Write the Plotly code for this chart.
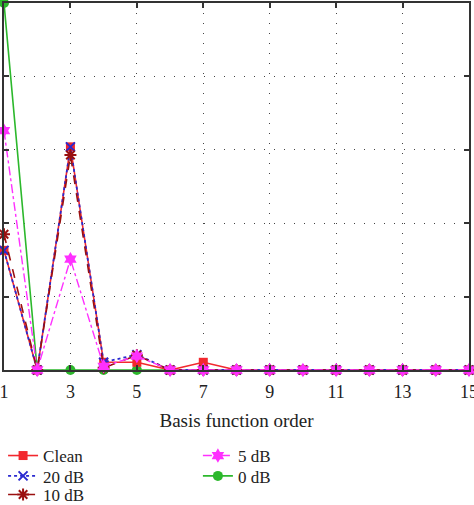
import plotly.graph_objects as go

# basis function order 1..15
order = list(range(1, 16))

clean = [1.63, 0, 3.04, 0.105, 0.105, 0, 0.105, 0, 0, 0, 0, 0, 0, 0, 0]
db20 = [1.63, 0, 3.04, 0.105, 0.21, 0, 0, 0, 0, 0, 0, 0, 0, 0, 0]
db10 = [1.85, 0, 2.93, 0.03, 0.2, 0, 0, 0, 0, 0, 0, 0, 0, 0, 0]
db5 = [3.26, 0, 1.51, 0.05, 0.19, 0, 0, 0, 0, 0, 0, 0, 0, 0, 0]
db0 = [5.0, 0, 0, 0, 0, 0, 0, 0, 0, 0, 0, 0, 0, 0, 0]

x_ticks = [1, 3, 5, 7, 9, 11, 13, 15]
y_ticks = [0, 1, 2, 3, 4, 5]

FONT = "Liberation Serif"

fig = go.Figure()

# 0 dB drawn first so the others sit on top of it
fig.add_trace(go.Scatter(
    x=order, y=db0, name="0 dB", mode="lines+markers",
    line=dict(color="#2cb82c", width=1.6),
    marker=dict(symbol="circle", size=10, color="#2cb82c"),
    legend="legend5", cliponaxis=False,
))
fig.add_trace(go.Scatter(
    x=order, y=clean, name="Clean", mode="lines+markers",
    line=dict(color="#f2282e", width=1.6),
    marker=dict(symbol="square", size=9, color="#f2282e"),
    legend="legend", cliponaxis=False,
))
fig.add_trace(go.Scatter(
    x=order, y=db20, name="20 dB", mode="lines+markers",
    line=dict(color="#2a2ad0", width=1.8, dash="dot"),
    marker=dict(symbol="x-thin-open", size=9, line=dict(color="#2a2ad0", width=2)),
    legend="legend2", cliponaxis=False,
))
fig.add_trace(go.Scatter(
    x=order, y=db10, name="10 dB", mode="lines+markers",
    line=dict(color="#9a1010", width=1.6, dash="dash"),
    marker=dict(symbol="asterisk-open", size=10, line=dict(color="#9a1010", width=2)),
    legend="legend3", cliponaxis=False,
))
fig.add_trace(go.Scatter(
    x=order, y=db5, name="5 dB", mode="lines+markers",
    line=dict(color="#ff30ff", width=1.4, dash="dashdot"),
    marker=dict(symbol="hexagram", size=11, color="#ff30ff"),
    legend="legend4", cliponaxis=False,
))

axis_common = dict(
    showline=True, linecolor="#333333", linewidth=1.5, mirror="ticks",
    ticks="inside", ticklen=5, tickwidth=1.5, tickcolor="#333333",
    showgrid=True, gridcolor="#444444", gridwidth=1.3, griddash="1px,9px",
    zeroline=False, automargin=False,
)

fig.update_xaxes(
    range=[1, 15], tickvals=x_ticks, ticklabeloverflow="allow",
    ticklabelstandoff=5,
    tickfont=dict(family=FONT, size=18, color="#222222"),
    title=dict(text="Basis function order", font=dict(family=FONT, size=19, color="#222222"),
               standoff=12),
    **axis_common,
)
fig.update_yaxes(
    range=[0, 5], tickvals=y_ticks, showticklabels=False,
    **axis_common,
)

legend_font = dict(family=FONT, size=17, color="#222222")


def one_legend(x, y):
    return dict(x=x, y=y, xanchor="left", yanchor="middle", font=legend_font,
                bgcolor="rgba(0,0,0,0)", itemwidth=30)


col1 = -0.002
col2 = 0.417
rows = [-0.2343, -0.2898, -0.3406]

fig.update_layout(
    width=474, height=505,
    margin=dict(l=4, r=5, t=3, b=135, autoexpand=False),
    plot_bgcolor="white", paper_bgcolor="white",
    showlegend=True,
    legend=one_legend(col1, rows[0]),
    legend2=one_legend(col1, rows[1]),
    legend3=one_legend(col1, rows[2]),
    legend4=one_legend(col2, rows[0]),
    legend5=one_legend(col2, rows[1]),
)

# drop the browser's default page margin so the figure sits at 0,0
fig.write_html("out.html", config={"displayModeBar": False},
               post_script="document.body.style.margin='0';document.body.style.padding='0';")
